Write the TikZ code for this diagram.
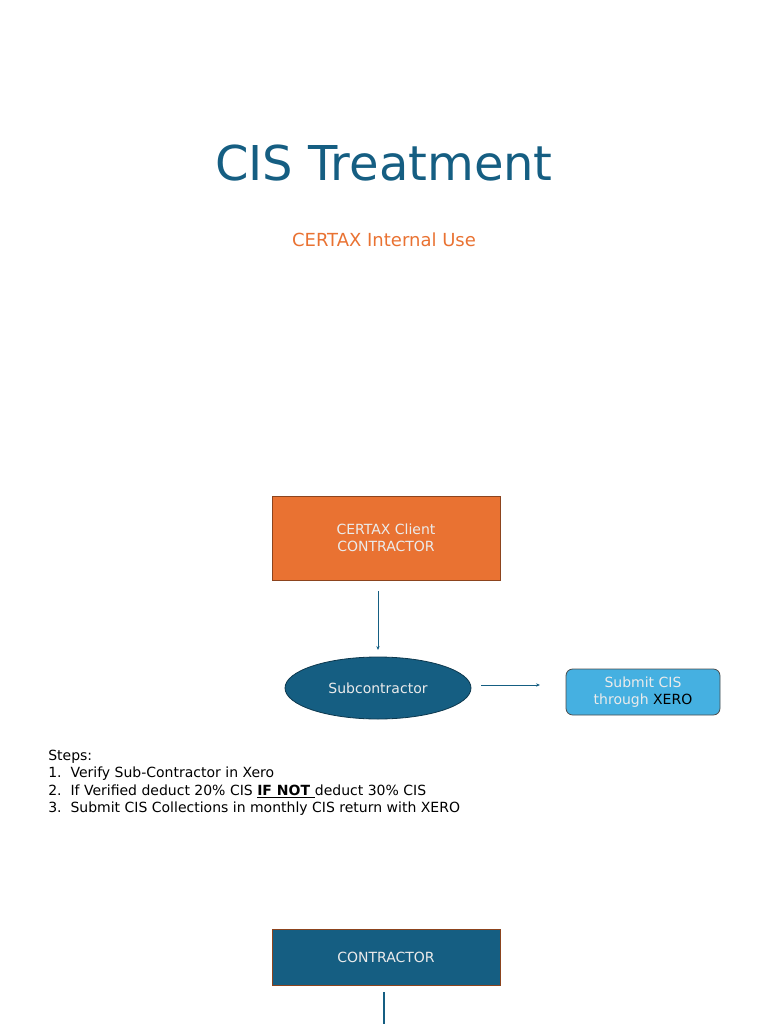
\documentclass[tikz,border=0pt]{standalone}
\usepackage{fontspec}
\setmainfont{DejaVu Sans}
\usetikzlibrary{shapes.geometric,arrows.meta}
\definecolor{dblue}{HTML}{155E82}
\definecolor{orng}{HTML}{E97232}
\definecolor{lblue}{HTML}{45B0E1}
\begin{document}
\begin{tikzpicture}[x=0.75pt,y=-0.75pt,
  box/.style={draw=#1!60!black, line width=0.6pt, inner sep=0pt, font=\fontsize{10.5}{13}\selectfont, text=white!92!black, align=center},
  conn/.style={draw=dblue, line width=0.6pt, -{Stealth[length=3pt,width=2.5pt]}}]
\useasboundingbox (0,0) rectangle (768,1024);
\node[text=dblue, font=\fontsize{36}{40}\selectfont] (title) at (384,163) {CIS Treatment};
\node[text=orng, font=\fontsize{13.5}{16}\selectfont] (sub) at (384,240) {CERTAX Internal Use};
\node[box=orng, fill=orng, minimum width=228*0.75pt, minimum height=84*0.75pt] (client) at (386,538) {CERTAX Client\\CONTRACTOR};
\node[box=dblue, fill=dblue, ellipse, minimum width=186*0.75pt, minimum height=62*0.75pt] (subc) at (378,688) {Subcontractor};
\node[box=lblue, fill=lblue, draw=black!70, rounded corners=5pt, minimum width=154*0.75pt, minimum height=46*0.75pt] (xero) at (643,692) {Submit CIS\\through \textcolor{black}{XERO}};
\coordinate (a1) at (378,591); \coordinate (a2) at (378,650);
\draw[conn] (a1) -- (a2);
\coordinate (b1) at (481,685); \coordinate (b2) at (540,685);
\draw[conn] (b1) -- (b2);
\node[anchor=north west, align=left, inner sep=0pt, font=\fontsize{10.5}{12.9}\selectfont] (steps) at (48,750) {Steps:\\
1.\ \ Verify Sub-Contractor in Xero\\
2.\ \ If Verified deduct 20\% CIS \underline{\textbf{IF NOT }}deduct 30\% CIS\\
3.\ \ Submit CIS Collections in monthly CIS return with XERO};
\node[box=orng, fill=dblue, minimum width=228*0.75pt, minimum height=56*0.75pt] (contr) at (386,957) {CONTRACTOR};
\coordinate (c1) at (384,992); \coordinate (c2) at (384,1024);
\draw[dblue, line width=1.2pt] (c1) -- (c2);
\end{tikzpicture}
\end{document}
